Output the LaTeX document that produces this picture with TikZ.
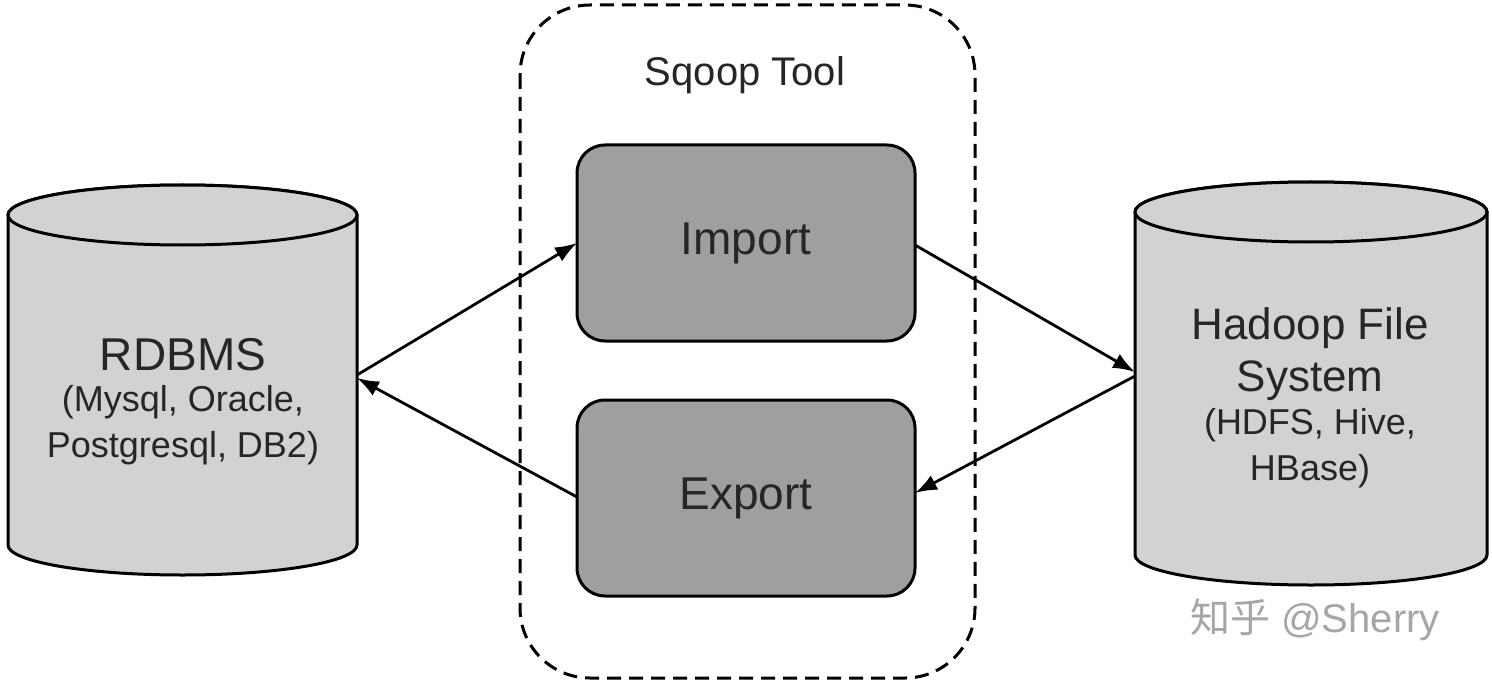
\documentclass[tikz,border=0pt]{standalone}
\usepackage{fontspec}
\usetikzlibrary{arrows.meta}
\setmainfont{Liberation Sans}
\newfontfamily\cjk{Noto Sans CJK SC}
\begin{document}
\begin{tikzpicture}[x=0.5pt,y=-0.5pt,
  proc/.style={draw=black,line width=1.5pt,fill=gray!75,rounded corners=14pt,minimum width=169pt,minimum height=98pt,font=\fontsize{23}{27}\selectfont,text=black!85},
  cyl/.style={draw=black,line width=1.5pt,fill=gray!35},
  arr/.style={line width=1.4pt,-{Latex[length=11pt,width=8pt]}},
  lbl/.style={align=center,font=\fontsize{18}{23}\selectfont,text=black!85}]
\useasboundingbox (0,0) rectangle (1492,684);
\fill[white] (0,0) rectangle (1492,684);
\draw[line width=1.5pt,dash pattern=on 7pt off 4pt,rounded corners=35pt] (520,5) rectangle (975,678);
\node[font=\fontsize{20}{24}\selectfont,text=black!85] (title) at (745,75) {Sqoop Tool};
\node[proc] (imp) at (746,243) {Import};
\node[proc] (exp) at (746,498) {Export};
% left cylinder
\draw[cyl] (8,215) -- (8,545) arc[start angle=180,end angle=0,x radius=174.5,y radius=30] -- (357,215) arc[start angle=0,end angle=-180,x radius=174.5,y radius=30];
\draw[cyl] (182.5,215) ellipse[x radius=174.5,y radius=30];
% right cylinder
\draw[cyl] (1135,212) -- (1135,555) arc[start angle=180,end angle=0,x radius=176,y radius=30] -- (1487,212) arc[start angle=0,end angle=-180,x radius=176,y radius=30];
\draw[cyl] (1311,212) ellipse[x radius=176,y radius=30];
\node[font=\fontsize{23}{27}\selectfont,text=black!85] (rdb) at (183,355) {RDBMS};
\node[lbl] (rdbsub) at (183,425) {(Mysql, Oracle,\\Postgresql, DB2)};
\node[align=center,font=\fontsize{22}{26}\selectfont,text=black!85] (hdfs) at (1310,354) {Hadoop File\\System};
\node[lbl] (hdfssub) at (1310,448) {(HDFS, Hive,\\HBase)};
\coordinate (L1) at (357,375);
\coordinate (L2) at (357,378);
\coordinate (R1) at (1135,372);
\coordinate (R2) at (1135,376);
\coordinate (Iw) at (577,243);
\coordinate (Ie) at (915,245);
\coordinate (Ew) at (577,497);
\coordinate (Ee) at (915,493);
\draw[arr] (L1) -- (Iw);
\draw[arr] (Ew) -- (L2);
\draw[arr] (Ie) -- (R1);
\draw[arr] (R2) -- (Ee);
\node[text=gray!70,font=\fontsize{20}{24}\selectfont] (wm) at (1315,620) {{\cjk 知乎} @Sherry};
\end{tikzpicture}
\end{document}
